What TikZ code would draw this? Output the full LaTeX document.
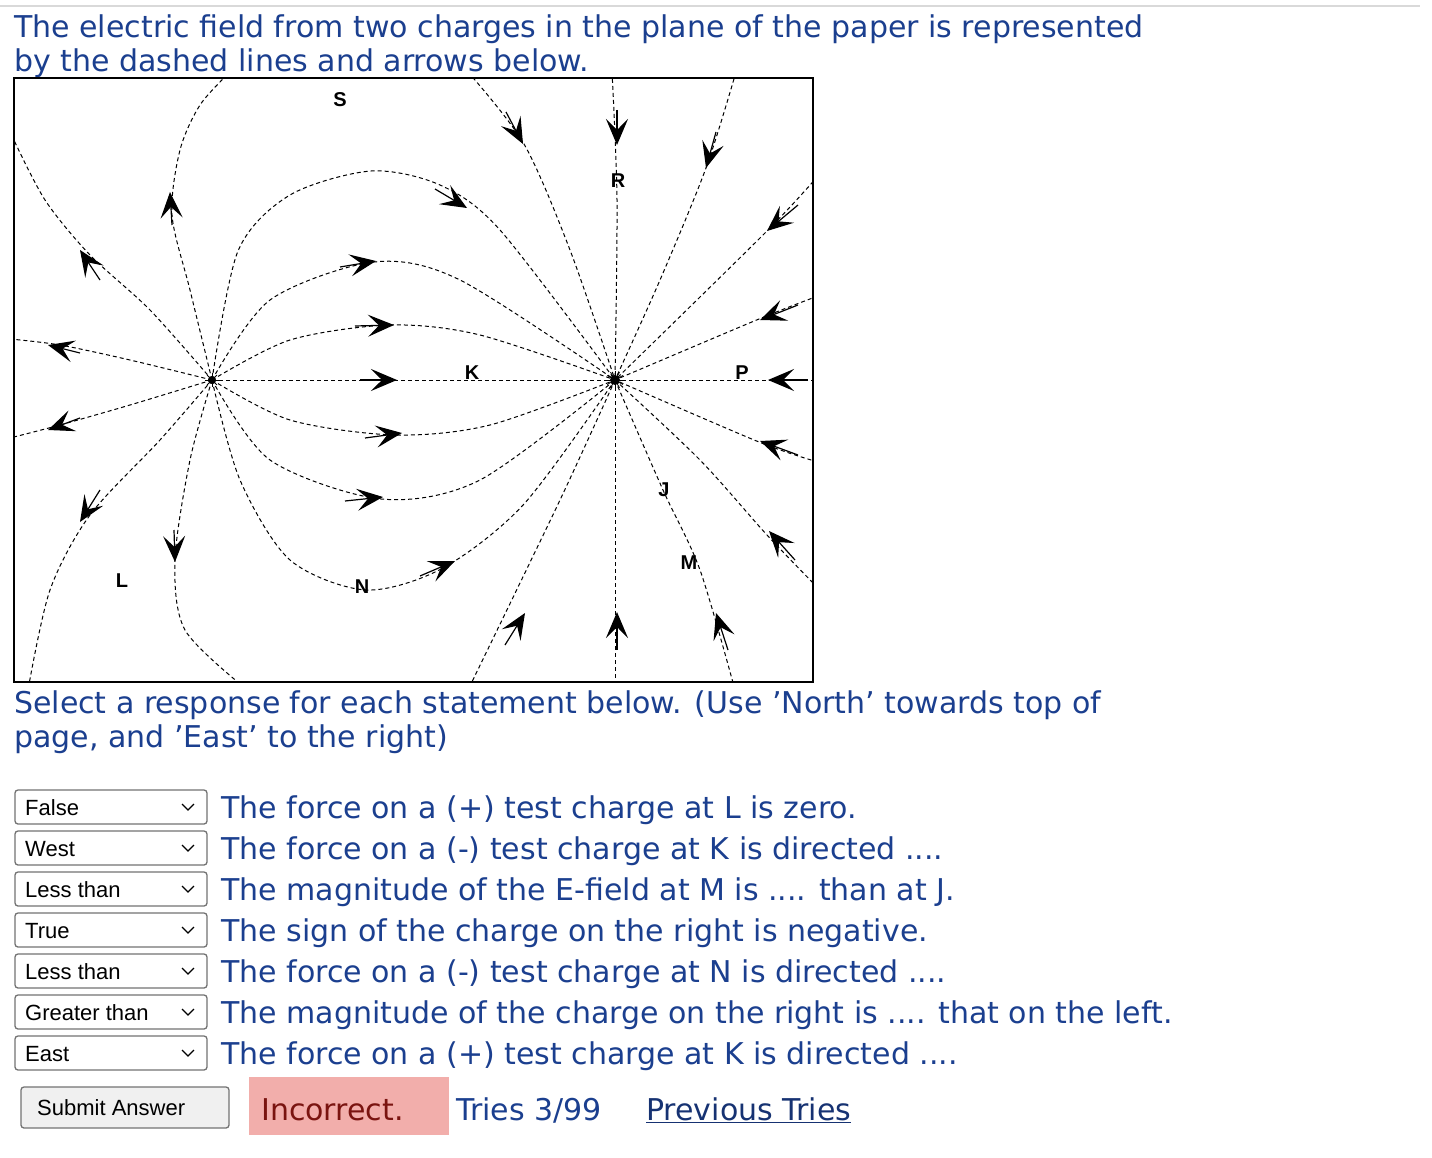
\documentclass[tikz,border=0pt]{standalone}
\usepackage{fontspec}
\setmainfont{DejaVu Sans}
\newfontfamily\arial{Liberation Sans}
\usetikzlibrary{arrows.meta}
\definecolor{qblue}{HTML}{1B3F8F}
\definecolor{incbg}{HTML}{F2AEAB}
\definecolor{incfg}{HTML}{7A1410}
\newcommand\fdots{....}
\tikzset{
  fl/.style={dash pattern=on 4pt off 3pt, line width=1pt},
  ah/.style={solid, line width=1.2pt, -{Stealth[length=26pt,width=22pt,inset=11pt]}},
  lab/.style={font=\arial\bfseries\fontsize{20}{20}\selectfont, inner sep=0pt},
  qt/.style={anchor=base west, text=qblue, font=\fontsize{30}{30}\selectfont, inner sep=0pt},
  dd/.style={draw=black!55, line width=1.3pt, rounded corners=3pt},
  ddt/.style={anchor=base west, font=\arial\fontsize{22}{22}\selectfont, inner sep=0pt},
}
\begin{document}
\begin{tikzpicture}[x=1pt,y=-1pt]
\useasboundingbox (0,0) rectangle (1432,1158);
\fill[white] (0,0) rectangle (1432,1158);
\draw[black!15, line width=2pt] (0,6) -- (1420,6);
\node[qt] (h1) at (14,38) {The electric field from two charges in the plane of the paper is represented};
\node[qt] (h2) at (14,72) {by the dashed lines and arrows below.};
\begin{scope}
\clip (14,78) rectangle (813,682);
\draw[fl] plot[smooth] coordinates {(212,380) (130,360) (60,345) (10,339)};
\draw[fl] plot[smooth] coordinates {(212,380) (130,405) (60,425) (10,438)};
\draw[fl] plot[smooth] coordinates {(212,380) (150,310) (90,255) (45,200) (12,136)};
\draw[fl] plot[smooth] coordinates {(212,380) (190,290) (172,215) (180,150) (200,105) (230,72)};
\draw[fl] plot[smooth] coordinates {(212,380) (160,440) (90,515) (50,590) (28,690)};
\draw[fl] plot[smooth] coordinates {(212,380) (190,460) (175,560) (185,630) (245,688)};
\draw[fl] (212,380) -- (615,380);
\draw[fl] plot[smooth] coordinates {(212,380) (290,340) (390,325) (480,335) (615,380)};
\draw[fl] plot[smooth] coordinates {(212,380) (290,420) (395,435) (490,425) (615,380)};
\draw[fl] plot[smooth] coordinates {(212,380) (270,300) (374,262) (460,280) (615,380)};
\draw[fl] plot[smooth] coordinates {(212,380) (270,460) (381,499) (480,480) (615,380)};
\draw[fl] plot[smooth] coordinates {(212,380) (238,251) (290,195) (371,171) (440,185) (500,230) (615,380)};
\draw[fl] plot[smooth] coordinates {(212,380) (240,480) (290,560) (366,590) (443,568) (524,504) (615,380)};
\draw[fl] plot[smooth] coordinates {(468,72) (524,144) (570,250) (615,380)};
\draw[fl] plot[smooth] coordinates {(612,72) (617,200) (615,380)};
\draw[fl] plot[smooth] coordinates {(736,72) (706,168) (660,280) (615,380)};
\draw[fl] plot[smooth] coordinates {(818,176) (766,232) (615,380)};
\draw[fl] plot[smooth] coordinates {(818,296) (759,319) (615,380)};
\draw[fl] (615,380) -- (818,380);
\draw[fl] plot[smooth] coordinates {(818,462) (759,442) (615,380)};
\draw[fl] plot[smooth] coordinates {(818,588) (767,535) (700,460) (615,380)};
\draw[fl] plot[smooth] coordinates {(615,380) (663,490) (700,570) (735,690)};
\draw[fl] (615,380) -- (615,690);
\draw[fl] plot[smooth] coordinates {(615,380) (560,500) (468,690)};
\end{scope}
\fill (212,380) circle (4);
\fill (615,380) circle (5);
\foreach \a in {0,30,...,330} {\draw[line width=0.8pt] (615,380) -- ++(\a:9);}
\foreach \a in {0,45,...,315} {\draw[line width=0.8pt] (212,380) -- ++(\a:7);}
% arrows
\draw[ah] (80,353) -- (48,345);
\draw[ah] (80,418) -- (48,430);
\draw[ah] (100,280) -- (80,250);
\draw[ah] (172,225) -- (170,192);
\draw[ah] (100,490) -- (80,522);
\draw[ah] (174,530) -- (175,562);
\draw[ah] (360,380) -- (397,380);
\draw[ah] (355,326) -- (394,325);
\draw[ah] (365,438) -- (402,433);
\draw[ah] (340,267) -- (376,261);
\draw[ah] (345,501) -- (383,497);
\draw[ah] (435,189) -- (467,208);
\draw[ah] (420,576) -- (455,561);
\draw[ah] (506,112) -- (523,144);
\draw[ah] (617,110) -- (617,145);
\draw[ah] (716,132) -- (706,168);
\draw[ah] (798,205) -- (767,231);
\draw[ah] (798,305) -- (760,320);
\draw[ah] (808,380) -- (768,380);
\draw[ah] (798,455) -- (760,441);
\draw[ah] (795,560) -- (769,531);
\draw[ah] (728,650) -- (716,613);
\draw[ah] (617,650) -- (617,612);
\draw[ah] (505,645) -- (525,613);
\draw[line width=1.2pt] (14,78) rectangle (813,682);
\node[lab] (S) at (340,100) {S};
\node[lab] (R) at (618,181) {R};
\node[lab] (K) at (472,373) {K};
\node[lab] (P) at (742,373) {P};
\node[lab] (J) at (664,490) {J};
\node[lab] (M) at (689,563) {M};
\node[lab] (L) at (122,581) {L};
\node[lab] (N) at (362,587) {N};
\node[qt] (s1) at (14,713) {Select a response for each statement below. (Use 'North' towards top of};
\node[qt] (s2) at (14,747) {page, and 'East' to the right)};
\foreach \y/\c/\t [count=\i] in {807/False/{The force on a (+) test charge at L is zero.},
  848/West/{The force on a (-) test charge at K is directed \fdots},
  889/Less than/{The magnitude of the E-field at M is \fdots{} than at J.},
  930/True/{The sign of the charge on the right is negative.},
  971/Less than/{The force on a (-) test charge at N is directed \fdots},
  1012/Greater than/{The magnitude of the charge on the right is \fdots{} that on the left.},
  1053/East/{The force on a (+) test charge at K is directed \fdots}} {
  \draw[dd] (15,\y-17) rectangle (207,\y+17);
  \node[ddt] (c\i) at (25,\y+8) {\c};
  \draw[line width=1.2pt] (182,\y-3) -- (188,\y+3) -- (194,\y-3);
  \node[qt] (t\i) at (221,\y+11) {\t};
}
\draw[dd, fill=black!6] (21,1087) rectangle (229,1128);
\node[ddt] (sub) at (37,1115) {Submit Answer};
\fill[incbg] (249,1077) rectangle (449,1135);
\node[qt, text=incfg] (inc) at (261,1120) {Incorrect.};
\node[qt] (tr) at (456,1120) {Tries 3/99};
\node[qt, text=qblue!80!black] (pt) at (646,1120) {\underline{Previous Tries}};
\end{tikzpicture}
\end{document}
